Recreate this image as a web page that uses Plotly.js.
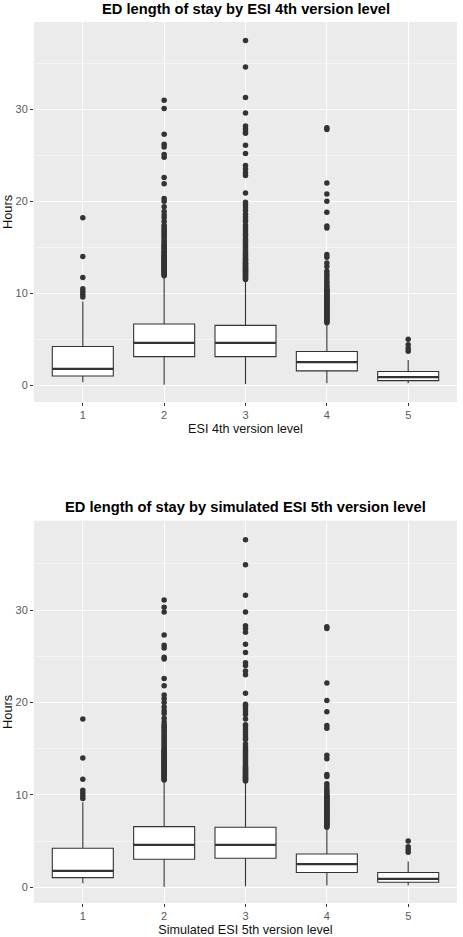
<!DOCTYPE html>
<html><head><meta charset="utf-8">
<script src="https://cdn.plot.ly/plotly-3.0.1.min.js"></script>
<style>html,body{margin:0;padding:0;background:#fff}</style></head>
<body><div id="chart" style="width:463px;height:937px"></div>
<script>
// ---------- data ----------
const levels = [1, 2, 3, 4, 5];
const tickLabels = ["1", "2", "3", "4", "5"];

// Panel A: ESI 4th version level
const esi4_lower  = [0.33, 0.05, 0.12, 0.2, 0.2];
const esi4_q1     = [1.0, 3.1, 3.1, 1.56, 0.5];
const esi4_median = [1.78, 4.6, 4.6, 2.5, 0.87];
const esi4_q3     = [4.2, 6.65, 6.5, 3.66, 1.49];
const esi4_upper  = [9.1, 11.8, 11.45, 6.7, 2.75];

const esi4_out1 = [9.6, 9.9, 10.2, 10.5, 11.7, 14.0, 18.2];
const esi4_out2 = [11.9, 12.0, 12.1, 12.2, 12.3, 12.4, 12.5, 12.6, 12.7, 12.8, 12.9, 13.0, 13.1, 13.2, 13.3, 13.4, 13.5, 13.6, 13.7, 13.8, 13.9, 14.0, 14.1, 14.2, 14.4, 14.5, 14.6, 14.8, 14.9, 15.1, 15.2, 15.4, 15.6, 15.8, 16.0, 16.2, 16.4, 16.6, 16.8, 17.0, 17.2, 17.4, 17.8, 18.2, 18.5, 18.9, 19.4, 20.0, 20.3, 21.9, 22.6, 24.8, 25.1, 25.9, 26.2, 27.3, 30.1, 31.0];
const esi4_out3 = [11.5, 11.6, 11.7, 11.8, 11.9, 12.0, 12.1, 12.2, 12.3, 12.4, 12.5, 12.6, 12.7, 12.8, 12.9, 13.0, 13.1, 13.2, 13.3, 13.4, 13.6, 13.7, 13.8, 14.0, 14.1, 14.3, 14.4, 14.6, 14.8, 15.0, 15.2, 15.4, 15.6, 15.8, 16.0, 16.3, 16.5, 16.8, 17.1, 17.4, 17.8, 18.0, 18.3, 18.6, 19.0, 19.3, 19.6, 19.9, 20.9, 22.8, 23.1, 23.5, 23.9, 25.2, 26.1, 27.4, 27.6, 27.9, 28.2, 29.6, 31.3, 34.6, 37.5];
const esi4_out4 = [6.8, 6.9, 7.0, 7.1, 7.2, 7.3, 7.4, 7.5, 7.6, 7.7, 7.8, 7.9, 8.0, 8.1, 8.2, 8.3, 8.4, 8.5, 8.6, 8.7, 8.8, 8.9, 9.0, 9.1, 9.2, 9.3, 9.4, 9.5, 9.6, 9.7, 9.8, 9.9, 10.0, 10.1, 10.2, 10.3, 10.4, 10.5, 10.7, 10.9, 11.1, 11.3, 11.6, 11.9, 12.1, 12.4, 12.9, 13.3, 13.9, 14.2, 17.1, 17.3, 18.8, 20.0, 20.8, 22.0, 27.8, 28.0];
const esi4_out5 = [3.7, 4.0, 4.4, 5.0];

// Panel B: simulated ESI 5th version level
const esi5_lower  = [0.43, 0.07, 0.1, 0.2, 0.2];
const esi5_q1     = [1.05, 3.03, 3.15, 1.6, 0.55];
const esi5_median = [1.77, 4.6, 4.6, 2.5, 0.9];
const esi5_q3     = [4.22, 6.56, 6.5, 3.6, 1.6];
const esi5_upper  = [9.2, 11.6, 11.5, 6.4, 2.8];

const esi5_out1 = [9.6, 9.9, 10.2, 10.5, 11.7, 14.0, 18.2];
const esi5_out2 = [11.6, 11.7, 11.8, 11.9, 12.0, 12.1, 12.2, 12.3, 12.4, 12.5, 12.6, 12.7, 12.8, 12.9, 13.0, 13.1, 13.2, 13.3, 13.4, 13.5, 13.6, 13.7, 13.8, 13.9, 14.0, 14.1, 14.2, 14.3, 14.4, 14.5, 14.6, 14.7, 14.8, 14.9, 15.0, 15.2, 15.4, 15.6, 15.8, 16.0, 16.2, 16.4, 16.6, 16.8, 17.0, 17.2, 17.4, 17.6, 17.9, 18.3, 18.8, 19.1, 19.5, 20.0, 20.4, 20.8, 21.8, 22.6, 24.7, 24.9, 25.9, 26.2, 27.3, 29.8, 30.3, 31.1];
const esi5_out3 = [11.5, 11.6, 11.7, 11.8, 11.9, 12.0, 12.1, 12.2, 12.3, 12.4, 12.5, 12.6, 12.7, 12.8, 12.9, 13.0, 13.2, 13.4, 13.6, 13.8, 14.0, 14.2, 14.4, 14.6, 14.8, 15.0, 15.2, 15.5, 16.0, 16.2, 16.5, 16.8, 17.1, 17.4, 17.6, 18.2, 18.7, 19.0, 19.3, 19.6, 19.8, 21.0, 23.0, 23.4, 24.0, 24.3, 25.4, 26.3, 27.6, 28.0, 28.3, 29.8, 31.6, 34.9, 37.6];
const esi5_out4 = [6.5, 6.6, 6.7, 6.8, 6.9, 7.0, 7.1, 7.2, 7.3, 7.4, 7.5, 7.6, 7.7, 7.8, 7.9, 8.0, 8.1, 8.2, 8.3, 8.4, 8.5, 8.6, 8.7, 8.8, 8.9, 9.0, 9.1, 9.2, 9.3, 9.4, 9.5, 9.6, 9.7, 9.8, 9.9, 10.0, 10.2, 10.4, 10.6, 10.9, 11.2, 12.0, 12.2, 13.9, 14.3, 17.2, 17.5, 19.0, 20.2, 22.1, 28.0, 28.2];
const esi5_out5 = [3.8, 4.1, 4.4, 5.0];

const panelTitles = ["ED length of stay by ESI 4th version level", "ED length of stay by simulated ESI 5th version level"];
const xTitles = ["ESI 4th version level", "Simulated ESI 5th version level"];
const yTitle = "Hours";

// ---------- build ----------
const BOXW = 0.75;
const LINE = "#333333";
function panel(lower, q1, med, q3, upper, outs, xa, ya) {
  const traces = [];
  traces.push({
    type: "box", x: levels, lowerfence: lower, q1: q1, median: med, q3: q3, upperfence: upper,
    width: BOXW, whiskerwidth: 0, fillcolor: "#FFFFFF",
    line: {color: LINE, width: 1.1}, xaxis: xa, yaxis: ya, showlegend: false, hoverinfo: "skip"
  });
  // thicker median segments
  const mx = [], my = [];
  levels.forEach((c, i) => { mx.push(c - BOXW / 2, c + BOXW / 2, null); my.push(med[i], med[i], null); });
  traces.push({type: "scatter", mode: "lines", x: mx, y: my, line: {color: LINE, width: 2.2},
    xaxis: xa, yaxis: ya, showlegend: false, hoverinfo: "skip"});
  // outliers
  const ox = [], oy = [];
  outs.forEach((arr, i) => arr.forEach(v => { ox.push(levels[i]); oy.push(v); }));
  traces.push({type: "scatter", mode: "markers", x: ox, y: oy,
    marker: {color: LINE, size: 5.5, line: {width: 0}},
    xaxis: xa, yaxis: ya, showlegend: false, hoverinfo: "skip"});
  return traces;
}

const data = [].concat(
  panel(esi4_lower, esi4_q1, esi4_median, esi4_q3, esi4_upper,
        [esi4_out1, esi4_out2, esi4_out3, esi4_out4, esi4_out5], "x", "y"),
  panel(esi5_lower, esi5_q1, esi5_median, esi5_q3, esi5_upper,
        [esi5_out1, esi5_out2, esi5_out3, esi5_out4, esi5_out5], "x2", "y2")
);

const FONT = "Liberation Sans, Arial, sans-serif";
const TICKCOL = "#595959";
function xaxis(domain, anchor, title) {
  return {
    domain: domain, anchor: anchor, range: [0.4, 5.6],
    tickmode: "array", tickvals: levels, ticktext: tickLabels,
    ticks: "outside", ticklen: 3, tickcolor: LINE, tickwidth: 1,
    tickfont: {family: FONT, size: 11, color: TICKCOL},
    showgrid: true, gridcolor: "#FFFFFF", gridwidth: 1.1,
    zeroline: false, showline: false, fixedrange: true, automargin: false,
    title: {text: title, font: {family: FONT, size: 12.6, color: "#111111"}, standoff: 3}
  };
}
function yaxis(domain, anchor, range) {
  return {
    domain: domain, anchor: anchor, range: range,
    tickmode: "array", tickvals: [0, 10, 20, 30], ticktext: ["0", "10", "20", "30"],
    ticks: "outside", ticklen: 3, tickcolor: LINE, tickwidth: 1,
    tickfont: {family: FONT, size: 11, color: TICKCOL},
    showgrid: true, gridcolor: "#FFFFFF", gridwidth: 1.1,
    minor: {tickmode: "array", tickvals: [5, 15, 25, 35], showgrid: true, gridcolor: "#FFFFFF", gridwidth: 0.5, ticks: ""},
    zeroline: false, showline: false, fixedrange: true, automargin: false,
    title: {text: yTitle, font: {family: FONT, size: 12.8, color: "#111111"}, standoff: 3}
  };
}

const xdom = [34 / 463, 457 / 463];
const TFONT = {family: FONT, size: 14.7, color: "#000000", weight: "bold"};
const layout = {
  width: 463, height: 937,
  margin: {l: 0, r: 0, t: 0, b: 0},
  paper_bgcolor: "#FFFFFF", plot_bgcolor: "#EBEBEB",
  showlegend: false,
  xaxis: xaxis(xdom, "y", xTitles[0]),
  yaxis: yaxis([1 - 402 / 937, 1 - 22 / 937], "x", [-1.83, 39.5]),
  xaxis2: xaxis(xdom, "y2", xTitles[1]),
  yaxis2: yaxis([1 - 903 / 937, 1 - 520.7 / 937], "x2", [-1.70, 39.67]),
  annotations: [
    {text: panelTitles[0], xref: "paper", yref: "paper", x: (xdom[0] + xdom[1]) / 2, y: 1 - 9 / 937,
     xanchor: "center", yanchor: "middle", showarrow: false, font: TFONT},
    {text: panelTitles[1], xref: "paper", yref: "paper", x: (xdom[0] + xdom[1]) / 2, y: 1 - 507 / 937,
     xanchor: "center", yanchor: "middle", showarrow: false, font: TFONT}
  ]
};

Plotly.newPlot("chart", data, layout, {displayModeBar: false, staticPlot: true});
</script>
</body></html>
